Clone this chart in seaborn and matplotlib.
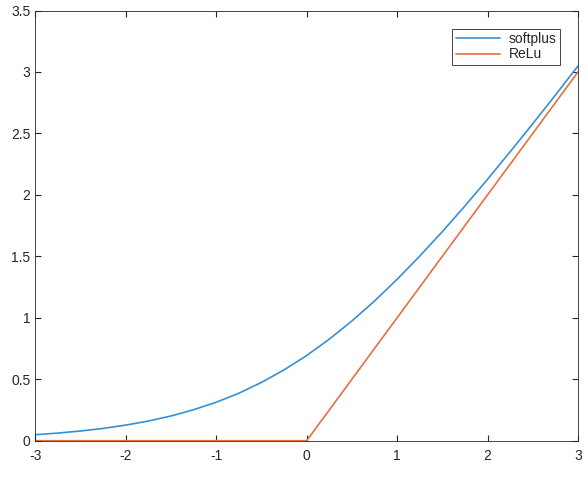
import pandas as pd
import matplotlib
matplotlib.use("Agg")
import matplotlib.pyplot as plt
import seaborn as sns

# valores
x_soft = [-3, -2.75, -2.5, -2.25, -2, -1.75, -1.5, -1.25, -1, -0.75, -0.5, -0.25,
          0, 0.25, 0.5, 0.75, 1, 1.25, 1.5, 1.75, 2, 2.25, 2.5, 2.75, 3]
y_soft = [0.049, 0.062, 0.079, 0.100, 0.127, 0.160, 0.201, 0.252, 0.313, 0.386, 0.474, 0.576,
          0.693, 0.826, 0.974, 1.136, 1.313, 1.502, 1.701, 1.910, 2.127, 2.351, 2.579, 2.812, 3.049]
x_relu = [-3, 0, 3]
y_relu = [0, 0, 3]

sns.set_style("white")
plt.rcParams['font.family'] = ['Liberation Sans', 'DejaVu Sans']
plt.rcParams['axes.unicode_minus'] = False

fig, ax = plt.subplots(figsize=(5.88, 4.78), dpi=100)
fig.subplots_adjust(left=0.06, right=0.983, top=0.978, bottom=0.078)

sns.lineplot(x=x_soft, y=y_soft, ax=ax, color='#3590D6', lw=1.2, label='softplus')
sns.lineplot(x=x_relu, y=y_relu, ax=ax, color='#E4703E', lw=1.2, label='ReLu')

ax.set_xlim(-3, 3)
ax.set_ylim(0, 3.5)
ax.set_xticks([-3, -2, -1, 0, 1, 2, 3])
ax.set_yticks([0, 0.5, 1, 1.5, 2, 2.5, 3, 3.5])
ax.set_yticklabels(['0', '0.5', '1', '1.5', '2', '2.5', '3', '3.5'])
ax.tick_params(direction='in', length=4, labelsize=10, top=True, right=True,
               bottom=True, left=True, color='#262626')
ax.tick_params(axis='x', pad=6)
for s in ax.spines.values():
    s.set_color('#262626')
    s.set_linewidth(0.6)

leg = ax.legend(loc='upper right', fontsize=10, fancybox=False, framealpha=1,
                edgecolor='#262626', borderaxespad=1.3, handlelength=3.2,
                borderpad=0.25, labelspacing=0.1, handletextpad=0.6)
leg.get_frame().set_linewidth(0.6)

plt.savefig('out.png', dpi=100)
